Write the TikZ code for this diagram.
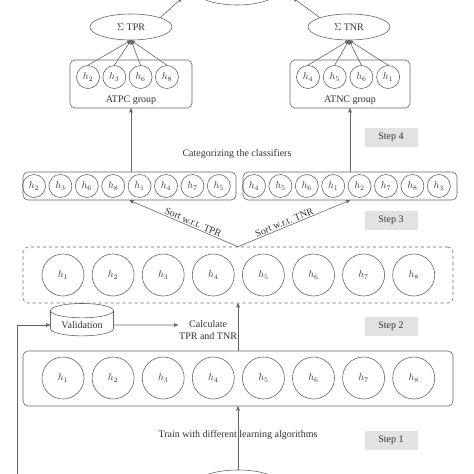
\documentclass[tikz,border=0pt]{standalone}
\usepackage{fontspec}
\setmainfont{Liberation Serif}
\usetikzlibrary{arrows,shapes.geometric}

\definecolor{lgray}{HTML}{666666}
\definecolor{stepgray}{HTML}{E2E2E2}
\definecolor{tgray}{HTML}{333333}

\tikzset{
  figfont/.style={font=\fontsize{10}{12}\selectfont},
  link/.style={->,draw=lgray,line width=0.6pt},
  hnode/.style={circle,draw=lgray,line width=0.6pt,minimum size=42pt,inner sep=0pt,figfont,text=tgray},
  hsmall/.style={circle,draw=lgray,line width=0.6pt,minimum size=23pt,inner sep=0pt,figfont,text=tgray},
  groupbox/.style={draw=lgray,line width=0.6pt,rounded corners=5pt,inner sep=0pt},
  stepbox/.style={fill=stepgray,minimum width=53pt,minimum height=19pt,figfont,text=tgray},
  sumnode/.style={ellipse,draw=lgray,line width=0.6pt,minimum width=82pt,minimum height=26pt,figfont,text=tgray},
  label/.style={figfont,text=tgray,align=center},
}

\begin{document}
\begin{tikzpicture}[x=1pt,y=-1pt,>=stealth']
    \useasboundingbox (0,0) rectangle (474,474);
    \clip (0,0) rectangle (474,474);

    % cut-off ellipses at top and bottom
    \node[sumnode, minimum width=84pt, minimum height=30pt] (result) at (237,-10) {};
    \node[sumnode, minimum width=86pt, minimum height=30pt] (data) at (238,485) {};
    \coordinate (tprtip) at (182,-2);
    \coordinate (tnrtip) at (293,-2);

    % step 4: groups
    \node[sumnode] (sumtpr) at (131,27) {$\Sigma$ TPR};
    \node[sumnode] (sumtnr) at (349,27) {$\Sigma$ TNR};
    \node[groupbox, minimum width=122pt, minimum height=48pt] (atpc) at (131,84) {};
    \node[groupbox, minimum width=120pt, minimum height=48pt] (atnc) at (350,84) {};
    \node[label] (atpclab) at (131,100) {ATPC group};
    \node[label] (atnclab) at (350,100) {ATNC group};
    \foreach \lab [count=\i] in {2,3,6,8}
        \node[hsmall] (p\i) at ({88+26.3*(\i-1)},77) {$h_{\lab}$};
    \foreach \lab [count=\i] in {4,5,6,1}
        \node[hsmall] (n\i) at ({308+26.7*(\i-1)},77) {$h_{\lab}$};
    \foreach \i in {1,...,4} {
        \draw[link] (p\i.north) -- (sumtpr.south);
        \draw[link] (n\i.north) -- (sumtnr.south);
    }
    \draw[link] (sumtpr.north east) -- (tprtip);
    \draw[link] (sumtnr.north west) -- (tnrtip);

    % step 3: sorted rows
    \node[groupbox, minimum width=213pt, minimum height=28pt] (tprrow) at (129.5,186) {};
    \node[groupbox, minimum width=214pt, minimum height=28pt] (tnrrow) at (350,186) {};
    \foreach \lab [count=\i] in {2,3,6,8,1,4,7,5}
        \node[hsmall] (a\i) at ({34+26.4*(\i-1)},186) {$h_{\lab}$};
    \foreach \lab [count=\i] in {4,5,6,1,2,7,8,3}
        \node[hsmall] (b\i) at ({254+26.4*(\i-1)},186) {$h_{\lab}$};
    \draw[link] (tprrow.north -| atpc.south) -- (atpc.south);
    \draw[link] (tnrrow.north -| atnc.south) -- (atnc.south);
    \node[label] (catlab) at (237,154) {Categorizing the classifiers};

    % step 2: evaluated classifiers
    \node[groupbox, dashed, minimum width=430pt, minimum height=56pt] (evalrow) at (238,275) {};
    \foreach \i in {1,...,8}
        \node[hnode] (e\i) at ({63+50.1*(\i-1)},275) {$h_{\i}$};
    \draw[link, <-] (tprrow.south) -- node[label, sloped, above, pos=0.57, inner sep=1pt] {Sort w.r.t. TPR} (evalrow.north);
    \draw[link] (evalrow.north) -- node[label, sloped, above, pos=0.43, inner sep=1pt] {Sort w.r.t. TNR} (tnrrow.south);

    \node[cylinder, shape border rotate=90, aspect=0.3, draw=lgray, line width=0.6pt,
          minimum width=63pt, minimum height=30pt, figfont, text=tgray] (valid) at (82,325) {Validation};
    \coordinate (calc) at (178,325);
    \node[label, anchor=west, inner sep=1pt] (calclab) at ([yshift=-5pt]calc) {Calculate\\TPR and TNR};
    \draw[link] (valid.east) -- (calc);

    % step 1: trained classifiers
    \node[groupbox, minimum width=430pt, minimum height=55pt] (trainrow) at (238,378.5) {};
    \foreach \i in {1,...,8}
        \node[hnode] (t\i) at ({63+50.1*(\i-1)},378) {$h_{\i}$};
    \draw[link] (trainrow.north) -- (evalrow.south);
    \node[label] (trainlab) at (238,435) {Train with different learning algorithms};
    \draw[link] (data.north) -- (trainrow.south);

    \coordinate (dsrc) at (17,480);
    \draw[link] (dsrc) |- (valid.west);

    % step labels
    \node[stepbox] (step4) at (391,137) {Step 4};
    \node[stepbox] (step3) at (391,220) {Step 3};
    \node[stepbox] (step2) at (391,326) {Step 2};
    \node[stepbox] (step1) at (391,440) {Step 1};
\end{tikzpicture}
\end{document}
